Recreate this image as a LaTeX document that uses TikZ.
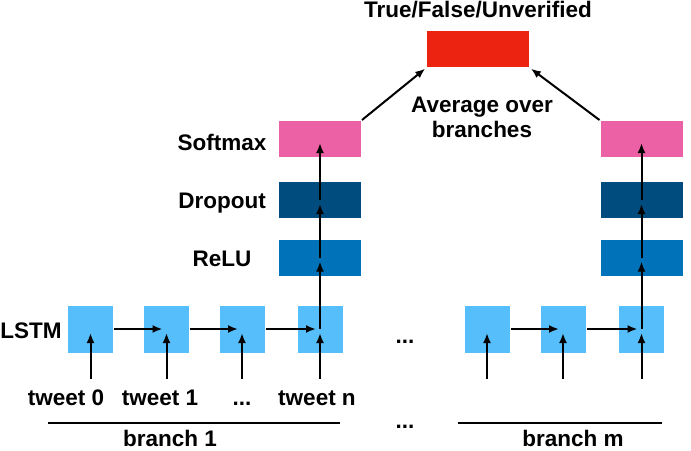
\documentclass[tikz,border=0pt]{standalone}
\usepackage{fontspec}
\setmainfont{Liberation Sans}
\usepackage{tikz}
\usetikzlibrary{arrows.meta}
\definecolor{lstmblue}{RGB}{86,190,250}
\definecolor{relublue}{RGB}{0,114,186}
\definecolor{dropblue}{RGB}{0,76,126}
\definecolor{softpink}{RGB}{236,96,166}
\definecolor{outred}{RGB}{236,35,17}

\begin{document}
\begin{tikzpicture}[x=1pt,y=-1pt,-{Latex[length=10pt,width=8pt]},line width=2pt,
    font=\fontsize{22.5}{25}\selectfont\bfseries]
    \tikzstyle{box}=[rectangle,draw=none,inner sep=0pt]
    \tikzstyle{lstm}=[box,fill=lstmblue,minimum width=45pt,minimum height=47pt]
    \tikzstyle{layer}=[box,minimum width=82pt,minimum height=36pt]
    \tikzstyle{label}=[anchor=base,inner sep=0pt]
    \tikzstyle{into}=[shorten >=4pt]

    \useasboundingbox (0,0) rectangle (691,450);

    % LSTM cells of both branches
    \foreach \name / \x in {1/90.5,2/166.5,3/242,4/320}
        \node[lstm] (L-\name) at (\x,329) {};
    \foreach \name / \x in {1/487,2/563,3/641.5}
        \node[lstm] (M-\name) at (\x,329) {};

    % Layers on top of the last cell
    \node[layer,fill=relublue] (R-1) at (320,257.5) {};
    \node[layer,fill=dropblue] (D-1) at (320,200) {};
    \node[layer,fill=softpink] (S-1) at (320,139) {};
    \node[layer,fill=relublue] (R-2) at (641.5,257.5) {};
    \node[layer,fill=dropblue] (D-2) at (641.5,200) {};
    \node[layer,fill=softpink] (S-2) at (641.5,139) {};

    % Output node
    \node[box,fill=outred,minimum width=102pt,minimum height=36pt] (O) at (478,49) {};

    % Inputs into the cells
    \foreach \name in {1,...,4}
        \coordinate (I-\name) at (L-\name |- 0,379);
    \foreach \name in {1,...,3}
        \coordinate (J-\name) at (M-\name |- 0,379);
    \foreach \name in {1,...,4}
        \draw[into] (I-\name) -- (L-\name.center);
    \foreach \name in {1,...,3}
        \draw[into] (J-\name) -- (M-\name.center);

    % Recurrent connections
    \foreach \source / \dest in {1/2,2/3,3/4}
        \draw[into] (L-\source) -- (L-\dest.center);
    \foreach \source / \dest in {1/2,2/3}
        \draw[into] (M-\source) -- (M-\dest.center);

    % Up through the layers
    \foreach \b / \last in {1/L-4,2/M-3} {
        \draw[into] (\last.center) -- (R-\b.center);
        \draw[into] (R-\b.center) -- (D-\b.center);
        \draw[into] (D-\b.center) -- (S-\b.center);
    }
    \draw[shorten >=1pt] (S-1.north east) -- (O.south west);
    \draw[shorten >=1pt] (S-2.north west) -- (O.south east);

    % Branch underlines
    \coordinate (b1-l) at (48,423);
    \coordinate (b1-r) at (340,423);
    \coordinate (bm-l) at (458,423);
    \coordinate (bm-r) at (662,423);
    \draw[-,line width=1.8pt] (b1-l) -- (b1-r);
    \draw[-,line width=1.8pt] (bm-l) -- (bm-r);

    % Annotate
    \node[label] (out) at (478,17) {True/False/Unverified};
    \node[label,align=center] (avg) at (482,137) {Average over\\branches};
    \node[label] (sm) at (222,150) {Softmax};
    \node[label] (dr) at (222,208) {Dropout};
    \node[label] (re) at (222,266) {ReLU};
    \node[label] (ls) at (31,338) {LSTM};
    \node[label] (t-0) at (66,405) {tweet 0};
    \node[label] (t-1) at (160,405) {tweet 1};
    \node[label] (t-d) at (242,405) {...};
    \node[label] (t-n) at (317,405) {tweet n};
    \node[label] (dots-1) at (405,343) {...};
    \node[label] (dots-2) at (405,428) {...};
    \node[label] (br-1) at (170,446) {branch 1};
    \node[label] (br-m) at (573,446) {branch m};
\end{tikzpicture}
\end{document}
